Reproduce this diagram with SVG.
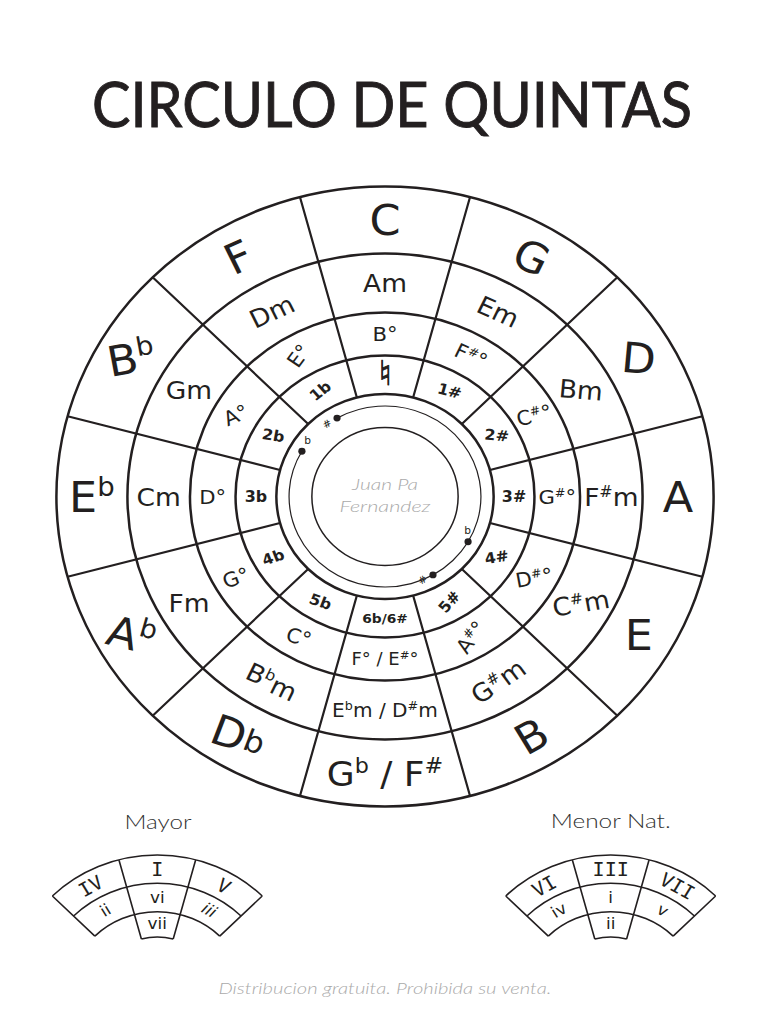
<svg xmlns="http://www.w3.org/2000/svg" width="768" height="1024" viewBox="0 0 768 1024">
<style>
.ln{fill:none;stroke:#231f20;stroke-width:2.5;vector-effect:non-scaling-stroke;stroke-linecap:round}
.rl{fill:none;stroke:#231f20;stroke-width:2.2;vector-effect:non-scaling-stroke}
.thin{fill:none;stroke:#231f20;stroke-width:1.2;vector-effect:non-scaling-stroke}
.mid{fill:none;stroke:#231f20;stroke-width:1.5;vector-effect:non-scaling-stroke}
.mini{fill:none;stroke:#231f20;stroke-width:1.6;vector-effect:non-scaling-stroke}
.dot{fill:#231f20}
text{fill:#231f20;text-anchor:middle}
.k{font-family:"DejaVu Sans",sans-serif;font-size:42px}
.m{font-family:"DejaVu Sans",sans-serif;font-size:25px}
.d{font-family:"DejaVu Sans",sans-serif;font-size:20px}
.s{font-family:"DejaVu Sans",sans-serif;font-size:15px;font-weight:600}
.nat{font-family:"DejaVu Sans",sans-serif;font-size:34px;font-weight:bold;stroke:#231f20;stroke-width:0.8}
.tiny{font-family:"DejaVu Sans",sans-serif;font-size:10px}
.rn{font-family:"DejaVu Sans Mono",monospace;font-size:19px}
.lc{font-family:"DejaVu Sans",sans-serif;font-size:16px}
.title{font-family:Lato,"Liberation Sans",sans-serif;font-size:61px;text-anchor:start;stroke:#231f20;stroke-width:0.9}
.lab{font-family:Lato,"Liberation Sans",sans-serif;font-size:19px;font-weight:300;fill:#333}
.gray{font-family:Lato,"Liberation Sans",sans-serif;font-style:italic;font-weight:300;fill:#aaa}
</style>

<text class="title" x="92" y="127" textLength="600" lengthAdjust="spacingAndGlyphs">CIRCULO DE QUINTAS</text>

<g id="circle" transform="translate(385,496.5) scale(1.06,1)">
  <g id="rings">
    <circle class="ln" r="310"/>
    <circle class="ln" r="243"/>
    <circle class="ln" r="184"/>
    <circle class="ln" r="141"/>
    <circle class="ln" r="102.5"/>
    <circle class="mid" r="69"/>
  </g>
  <g id="connectors">
    <path class="rl" d="M26.53 -99.01L80.23 -299.43M72.48 -72.48L219.2 -219.2M99.01 -26.53L299.43 -80.23M99.01 26.53L299.43 80.23M72.48 72.48L219.2 219.2M26.53 99.01L80.23 299.43M-26.53 99.01L-80.23 299.43M-72.48 72.48L-219.2 219.2M-99.01 26.53L-299.43 80.23M-99.01 -26.53L-299.43 -80.23M-72.48 -72.48L-219.2 -219.2M-26.53 -99.01L-80.23 -299.43"/>
    <path class="thin" d="M-45.25 -78.38A90.5 90.5 0 1 1 -78.38 -45.25"/>
    <circle class="dot" cx="-45.25" cy="-78.38" r="3.4"/>
    <circle class="dot" cx="-78.38" cy="-45.25" r="3.4"/>
    <circle class="dot" cx="78.38" cy="45.25" r="3.4"/>
    <circle class="dot" cx="45.25" cy="78.38" r="3.4"/>
    <text class="tiny" transform="translate(-55,-73) rotate(-30)" y="4">#</text>
    <text class="tiny" transform="translate(-73,-56)" y="3">b</text>
    <text class="tiny" transform="translate(78,34)" y="3">b</text>
    <text class="tiny" transform="translate(35,83) rotate(-30)" y="4">#</text>
  </g>

  <g id="major">
    <text class="k" transform="translate(0,-276.5)" y="15">C</text>
    <text class="k" transform="translate(138.25,-239.45) rotate(25)" y="15">G</text>
    <text class="k" transform="translate(239.45,-138.25) rotate(5)" y="15">D</text>
    <text class="k" transform="translate(276.5,0)" y="15">A</text>
    <text class="k" transform="translate(239.45,138.25)" y="15">E</text>
    <text class="k" transform="translate(138.25,239.45) rotate(-30)" y="15">B</text>
    <text class="k" transform="translate(0,276.5)" y="13" style="font-size:34px">G<tspan style="font-size:21px" dy="-13">b</tspan><tspan dy="13"> / F</tspan><tspan style="font-size:21px" dy="-13">#</tspan></text>
    <text class="k" transform="translate(-138.25,239.45) rotate(20)" y="15">D<tspan style="font-size:30px" dy="-4">b</tspan></text>
    <text class="k" transform="translate(-239.45,138.25) rotate(15)" y="15">A<tspan style="font-size:26px" dy="-16">b</tspan></text>
    <text class="k" transform="translate(-276.5,0)" y="15">E<tspan style="font-size:26px" dy="-16">b</tspan></text>
    <text class="k" transform="translate(-239.45,-138.25) rotate(-10)" y="15">B<tspan style="font-size:26px" dy="-16">b</tspan></text>
    <text class="k" transform="translate(-138.25,-239.45) rotate(-25)" y="15">F</text>
  </g>

  <g id="minor">
    <text class="m" transform="translate(0,-213.5)" y="9">Am</text>
    <text class="m" transform="translate(106.75,-184.9) rotate(25)" y="9">Em</text>
    <text class="m" transform="translate(184.9,-106.75) rotate(5)" y="9">Bm</text>
    <text class="m" transform="translate(213.5,0)" y="9">F<tspan style="font-size:15px" dy="-9">#</tspan><tspan dy="9">m</tspan></text>
    <text class="m" transform="translate(184.9,106.75) rotate(-10)" y="9">C<tspan style="font-size:15px" dy="-9">#</tspan><tspan dy="9">m</tspan></text>
    <text class="m" transform="translate(106.75,184.9) rotate(-35)" y="9">G<tspan style="font-size:15px" dy="-9">#</tspan><tspan dy="9">m</tspan></text>
    <text class="m" transform="translate(0,213.5)" y="7" style="font-size:19px">E<tspan style="font-size:12px" dy="-7">b</tspan><tspan dy="7">m / D</tspan><tspan style="font-size:12px" dy="-7">#</tspan><tspan dy="7">m</tspan></text>
    <text class="m" transform="translate(-106.75,184.9) rotate(25)" y="8">B<tspan style="font-size:15px" dy="-8">b</tspan><tspan dy="11">m</tspan></text>
    <text class="m" transform="translate(-184.9,106.75)" y="9">Fm</text>
    <text class="m" transform="translate(-213.5,0)" y="9">Cm</text>
    <text class="m" transform="translate(-184.9,-106.75)" y="9">Gm</text>
    <text class="m" transform="translate(-106.75,-184.9) rotate(-25)" y="9">Dm</text>
  </g>

  <g id="diminished">
    <text class="d" transform="translate(0,-162.5)" y="7">B°</text>
    <text class="d" transform="translate(81.25,-140.7) rotate(25)" y="7">F<tspan style="font-size:12px" dy="-7">#</tspan><tspan dy="7">°</tspan></text>
    <text class="d" transform="translate(140.7,-81.25) rotate(-15)" y="7">C<tspan style="font-size:12px" dy="-7">#</tspan><tspan dy="7">°</tspan></text>
    <text class="d" transform="translate(162.5,0)" y="7">G<tspan style="font-size:12px" dy="-7">#</tspan><tspan dy="7">°</tspan></text>
    <text class="d" transform="translate(140.7,81.25) rotate(-10)" y="7">D<tspan style="font-size:12px" dy="-7">#</tspan><tspan dy="7">°</tspan></text>
    <text class="d" transform="translate(81.25,140.7) rotate(-55)" y="7">A<tspan style="font-size:12px" dy="-7">#</tspan><tspan dy="7">°</tspan></text>
    <text class="d" transform="translate(0,162.5)" y="6" style="font-size:17px">F° / E<tspan style="font-size:11px" dy="-6">#</tspan><tspan dy="6">°</tspan></text>
    <text class="d" transform="translate(-81.25,140.7) rotate(15)" y="7">C°</text>
    <text class="d" transform="translate(-140.7,81.25) rotate(-20)" y="7">G°</text>
    <text class="d" transform="translate(-162.5,0)" y="7">D°</text>
    <text class="d" transform="translate(-140.7,-81.25) rotate(-25)" y="7">A°</text>
    <text class="d" transform="translate(-81.25,-140.7) rotate(-55)" y="7">E°</text>
  </g>

  <g id="signatures">
    <text class="nat" transform="translate(0,-121.75)" y="10">&#x266E;</text>
    <text class="s" transform="translate(60.9,-105.4) rotate(15)" y="5">1#</text>
    <text class="s" transform="translate(105.4,-60.9) rotate(5)" y="5">2#</text>
    <text class="s" transform="translate(121.75,0)" y="5">3#</text>
    <text class="s" transform="translate(105.4,60.9) rotate(-10)" y="5">4#</text>
    <text class="s" transform="translate(60.9,105.4) rotate(-50)" y="5">5#</text>
    <text class="s" transform="translate(0,121.75)" y="5" style="font-size:13px">6b/6#</text>
    <text class="s" transform="translate(-60.9,105.4) rotate(20)" y="5">5b</text>
    <text class="s" transform="translate(-105.4,60.9) rotate(-20)" y="5">4b</text>
    <text class="s" transform="translate(-121.75,0)" y="5">3b</text>
    <text class="s" transform="translate(-105.4,-60.9) rotate(10)" y="5">2b</text>
    <text class="s" transform="translate(-60.9,-105.4) rotate(-40)" y="5">1b</text>
  </g>
</g>

<g id="author">
  <text class="gray" x="385" y="490" style="font-size:16px" textLength="66" lengthAdjust="spacingAndGlyphs">Juan Pa</text>
  <text class="gray" x="385" y="512" style="font-size:16px" textLength="91" lengthAdjust="spacingAndGlyphs">Fernandez</text>
</g>

<g id="mayor">
  <text class="lab" x="158" y="829" textLength="67" lengthAdjust="spacingAndGlyphs">Mayor</text>
  <g transform="translate(157.3,995) scale(1.06,1)">
    <path class="mini" d="M-98.99 -98.99A140 140 0 0 1 98.99 -98.99M-78.98 -78.98A111.7 111.7 0 0 1 78.98 -78.98M-58.9 -58.9A83.3 83.3 0 0 1 58.9 -58.9M-15.01 -56.02A58 58 0 0 1 15.01 -56.02M-98.99 -98.99L-58.9 -58.9M98.99 -98.99L58.9 -58.9M-36.23 -135.23L-15.01 -56.02M36.23 -135.23L15.01 -56.02"/>
    <text class="rn" transform="translate(-63,-109.1) rotate(-30)" y="7">IV</text>
    <text class="rn" transform="translate(0,-126)" y="7">I</text>
    <text class="rn" transform="translate(63,-109.1) rotate(30)" y="7">V</text>
    <text class="lc" transform="translate(-48.75,-84.4) rotate(-30)" y="5">ii</text>
    <text class="lc" transform="translate(0,-97.5)" y="5">vi</text>
    <text class="lc" transform="translate(48.75,-84.4) rotate(30)" y="5" style="font-style:italic">iii</text>
    <text class="lc" transform="translate(0,-70.6)" y="5">vii</text>
  </g>
</g>

<g id="menor">
  <text class="lab" x="610.7" y="828" textLength="120" lengthAdjust="spacingAndGlyphs">Menor Nat.</text>
  <g transform="translate(610.7,995) scale(1.06,1)">
    <path class="mini" d="M-98.99 -98.99A140 140 0 0 1 98.99 -98.99M-78.98 -78.98A111.7 111.7 0 0 1 78.98 -78.98M-58.9 -58.9A83.3 83.3 0 0 1 58.9 -58.9M-15.01 -56.02A58 58 0 0 1 15.01 -56.02M-98.99 -98.99L-58.9 -58.9M98.99 -98.99L58.9 -58.9M-36.23 -135.23L-15.01 -56.02M36.23 -135.23L15.01 -56.02"/>
    <text class="rn" transform="translate(-63,-109.1) rotate(-30)" y="7">VI</text>
    <text class="rn" transform="translate(0,-126)" y="7">III</text>
    <text class="rn" transform="translate(63,-109.1) rotate(30)" y="7">VII</text>
    <text class="lc" transform="translate(-48.75,-84.4) rotate(-30)" y="5">iv</text>
    <text class="lc" transform="translate(0,-97.5)" y="5">i</text>
    <text class="lc" transform="translate(48.75,-84.4) rotate(30)" y="5">v</text>
    <text class="lc" transform="translate(0,-70.6)" y="5">ii</text>
  </g>
</g>

<text class="gray" x="385" y="994" style="font-size:15px" textLength="333" lengthAdjust="spacingAndGlyphs">Distribucion gratuita. Prohibida su venta.</text>
</svg>
